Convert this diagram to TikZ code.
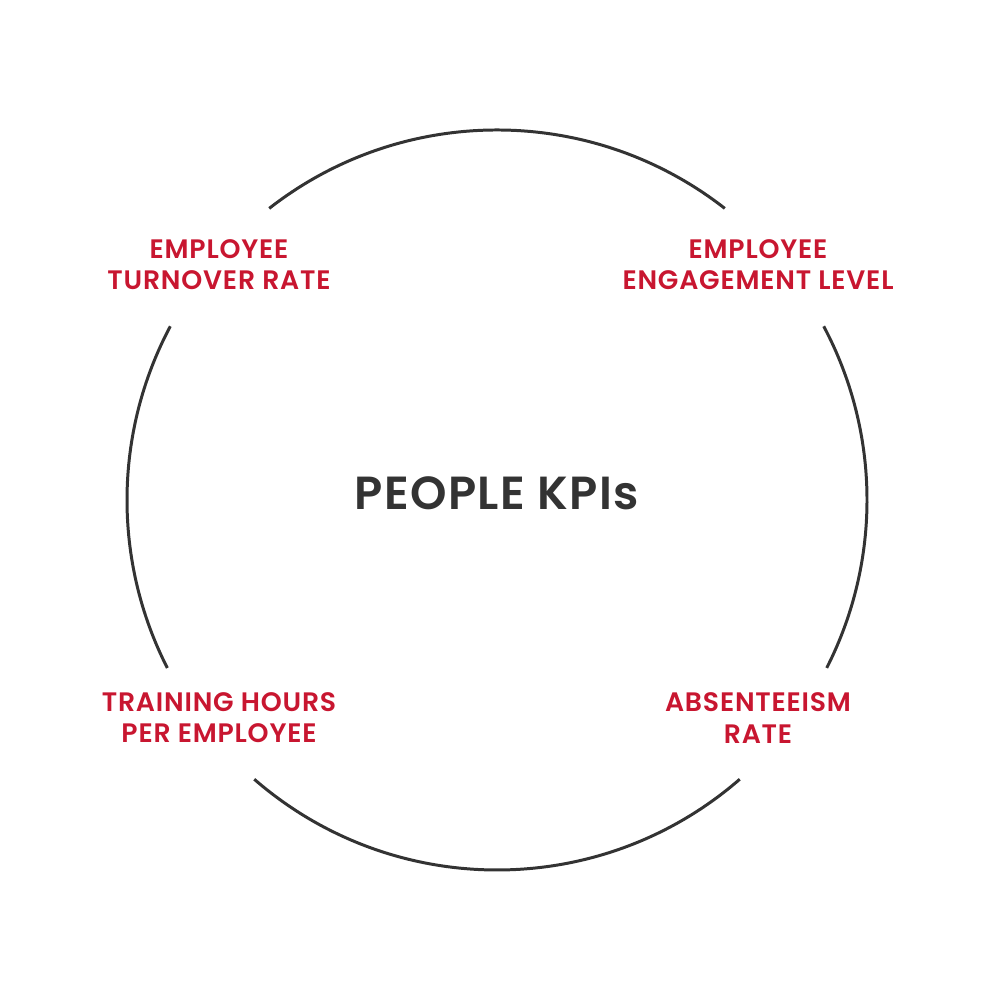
\documentclass[tikz,border=0pt]{standalone}
\usepackage{fontspec}
\setmainfont{Poppins}[BoldFont={* SemiBold}, LetterSpace=3]
\usepackage{xcolor}
\usepackage{tikz}
\definecolor{kpired}{RGB}{200, 22, 48}
\definecolor{kpigray}{RGB}{51, 51, 51}

\begin{document}
\begin{tikzpicture}
\tikzstyle{ring} = [draw=kpigray, line width=0.85pt]
\tikzstyle{kpi} = [align=center, text=kpired, font=\bfseries\fontsize{7.6}{8.9}\selectfont, inner sep=0pt]
\tikzstyle{title} = [text=kpigray, font=\bfseries\fontsize{13.2}{15}\selectfont, inner sep=0pt]

\useasboundingbox (0,0) rectangle (10,10);

% Center
\coordinate (c) at (4.97,5);
\node[title] (people) at (4.97,5.07) {PEOPLE KPIs};

% Ring, broken at the labels
\draw[ring] ([shift={(52:3.7)}]c) arc (52:128:3.7);
\draw[ring] ([shift={(152:3.7)}]c) arc (152:207:3.7);
\draw[ring] ([shift={(229:3.7)}]c) arc (229:311:3.7);
\draw[ring] ([shift={(-27:3.7)}]c) arc (-27:28:3.7);

% KPIs
\node[kpi] (turnover) at (2.19,7.35) {EMPLOYEE\\TURNOVER RATE};
\node[kpi] (engagement) at (7.58,7.35) {EMPLOYEE\\ENGAGEMENT LEVEL};
\node[kpi] (training) at (2.19,2.82) {TRAINING HOURS\\PER EMPLOYEE};
\node[kpi] (absence) at (7.58,2.82) {ABSENTEEISM\\RATE};
\end{tikzpicture}
\end{document}
